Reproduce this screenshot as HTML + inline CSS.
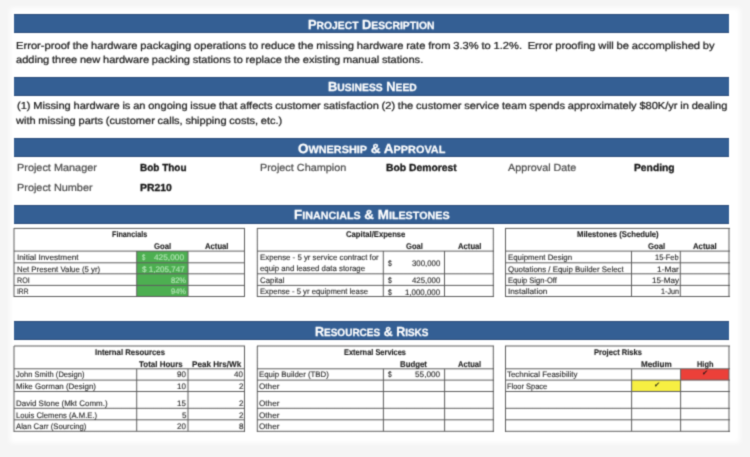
<!DOCTYPE html>
<html lang="en"><head><meta charset="utf-8"><title>Project Charter</title>
<style>
html,body{margin:0;padding:0}
body{width:750px;height:457px;overflow:hidden;background:#f5f5f5;position:relative;text-rendering:geometricPrecision;font-family:"Liberation Sans", sans-serif}
#sheet{position:absolute;left:9.5px;top:8.3px;width:730.4px;height:434.4px;background:#fff;filter:blur(2.5px)}
#wrap{position:absolute;left:0;top:0;width:750px;height:457px;filter:url(#soft)}
.t{position:absolute;white-space:pre;line-height:1;transform-origin:0 0;display:block;margin:0;padding:0}
.bar{position:absolute;background:#345f94;margin:0;box-shadow:inset 0 1px 0 #2a4b7a,inset 0 -1px 0 #2a4b7a}
.bar b{position:absolute;white-space:pre;color:#fff;-webkit-text-stroke:0.25px #fff;font-weight:700;font-size:13.1px;line-height:1;transform-origin:0 0;display:block}
.bar b small{font-size:10.5px}
.ln{position:absolute}
.f{position:absolute}
p.t{-webkit-text-stroke:0.24px currentColor;word-spacing:-0.3px}
span.t.o{-webkit-text-stroke:0.2px currentColor}
span.t.v{-webkit-text-stroke:0.3px currentColor}
span.t{-webkit-text-stroke:0.12px currentColor}
.ck{position:absolute;font-family:"DejaVu Sans",sans-serif;font-size:7px;line-height:1;color:#111;font-weight:700;transform:skewX(-14deg) scaleX(0.85)}
</style></head><body>
<svg width="0" height="0" style="position:absolute" aria-hidden="true"><filter id="soft" x="0" y="0" width="100%" height="100%" color-interpolation-filters="sRGB"><feConvolveMatrix order="3" edgeMode="duplicate" preserveAlpha="false" kernelMatrix="0.0289 0.1122 0.0289 0.1122 0.4356 0.1122 0.0289 0.1122 0.0289"/></filter></svg>
<div id="sheet"></div><div id="wrap">
<h2 class="bar" style="left:13.8px;top:14.4px;width:715.4px;height:18.6px"><b id="h0" style="left:294.60px;top:2.60px;line-height:15px;transform:scaleX(0.9828)">P<small>ROJECT</small> D<small>ESCRIPTION</small></b></h2>
<h2 class="bar" style="left:13.8px;top:76.8px;width:715.4px;height:18.8px"><b id="h1" style="left:313.80px;top:2.20px;line-height:15px;transform:scaleX(0.9838)">B<small>USINESS</small> N<small>EED</small></b></h2>
<h2 class="bar" style="left:13.8px;top:138.1px;width:715.4px;height:18.8px"><b id="h2" style="left:284.40px;top:2.90px;line-height:15px;transform:scaleX(1.0339)">O<small>WNERSHIP</small> &amp; A<small>PPROVAL</small></b></h2>
<h2 class="bar" style="left:13.8px;top:204.5px;width:715.4px;height:19.0px"><b id="h3" style="left:280.10px;top:2.50px;line-height:15px;transform:scaleX(1.0227)">F<small>INANCIALS</small> &amp; M<small>ILESTONES</small></b></h2>
<h2 class="bar" style="left:13.8px;top:320.8px;width:715.4px;height:19.2px"><b id="h4" style="left:301.70px;top:3.20px;line-height:15px;transform:scaleX(0.9529)">R<small>ESOURCES</small> &amp; R<small>ISKS</small></b></h2>
<div class="f" style="left:136.7px;top:251.1px;width:51.3px;height:45.4px;background:#4daf51"></div>
<div class="f" style="left:680.6px;top:368.8px;width:48.4px;height:11.3px;background:#ec4039"></div>
<div class="f" style="left:631.6px;top:380.1px;width:49.0px;height:11.4px;background:#f7ef42"></div>
<div class="ln" style="left:14px;top:227px;width:231px;height:2px;background:linear-gradient(to bottom,rgba(92,92,92,0.10) 50%,rgba(92,92,92,0.90) 50%)"></div><div class="ln" style="left:14px;top:250px;width:231px;height:2px;background:linear-gradient(to bottom,rgba(92,92,92,0.40) 50%,rgba(92,92,92,0.60) 50%)"></div><div class="ln" style="left:14px;top:262px;width:231px;height:2px;background:linear-gradient(to bottom,rgba(92,92,92,0.70) 50%,rgba(92,92,92,0.30) 50%)"></div><div class="ln" style="left:14px;top:273px;width:231px;height:2px;background:linear-gradient(to bottom,rgba(92,92,92,0.70) 50%,rgba(92,92,92,0.30) 50%)"></div><div class="ln" style="left:14px;top:284px;width:231px;height:2px;background:linear-gradient(to bottom,rgba(92,92,92,0.10) 50%,rgba(92,92,92,0.90) 50%)"></div><div class="ln" style="left:14px;top:296px;width:231px;height:2px;background:linear-gradient(to bottom,rgba(92,92,92,1.00) 50%,rgba(92,92,92,0.00) 50%)"></div><div class="ln" style="left:13px;top:228px;width:2px;height:69px;background:linear-gradient(to right,rgba(92,92,92,0.50) 50%,rgba(92,92,92,0.50) 50%)"></div><div class="ln" style="left:244px;top:228px;width:2px;height:69px;background:linear-gradient(to right,rgba(92,92,92,1.00) 50%,rgba(92,92,92,0.00) 50%)"></div><div class="ln" style="left:136px;top:251px;width:2px;height:45px;background:linear-gradient(to right,rgba(92,92,92,0.80) 50%,rgba(92,92,92,0.20) 50%)"></div><div class="ln" style="left:187px;top:251px;width:2px;height:45px;background:linear-gradient(to right,rgba(92,92,92,0.50) 50%,rgba(92,92,92,0.50) 50%)"></div>
<div class="ln" style="left:257px;top:227px;width:237px;height:2px;background:linear-gradient(to bottom,rgba(92,92,92,0.10) 50%,rgba(92,92,92,0.90) 50%)"></div><div class="ln" style="left:257px;top:250px;width:237px;height:2px;background:linear-gradient(to bottom,rgba(92,92,92,0.40) 50%,rgba(92,92,92,0.60) 50%)"></div><div class="ln" style="left:257px;top:273px;width:237px;height:2px;background:linear-gradient(to bottom,rgba(92,92,92,0.70) 50%,rgba(92,92,92,0.30) 50%)"></div><div class="ln" style="left:257px;top:284px;width:237px;height:2px;background:linear-gradient(to bottom,rgba(92,92,92,0.10) 50%,rgba(92,92,92,0.90) 50%)"></div><div class="ln" style="left:257px;top:296px;width:237px;height:2px;background:linear-gradient(to bottom,rgba(92,92,92,1.00) 50%,rgba(92,92,92,0.00) 50%)"></div><div class="ln" style="left:256px;top:228px;width:2px;height:69px;background:linear-gradient(to right,rgba(92,92,92,0.20) 50%,rgba(92,92,92,0.80) 50%)"></div><div class="ln" style="left:492px;top:228px;width:2px;height:69px;background:linear-gradient(to right,rgba(92,92,92,0.20) 50%,rgba(92,92,92,0.80) 50%)"></div><div class="ln" style="left:382px;top:251px;width:2px;height:45px;background:linear-gradient(to right,rgba(92,92,92,0.20) 50%,rgba(92,92,92,0.80) 50%)"></div><div class="ln" style="left:444px;top:251px;width:2px;height:45px;background:linear-gradient(to right,rgba(92,92,92,1.00) 50%,rgba(92,92,92,0.00) 50%)"></div>
<div class="ln" style="left:505px;top:227px;width:225px;height:2px;background:linear-gradient(to bottom,rgba(92,92,92,0.10) 50%,rgba(92,92,92,0.90) 50%)"></div><div class="ln" style="left:505px;top:250px;width:225px;height:2px;background:linear-gradient(to bottom,rgba(92,92,92,0.40) 50%,rgba(92,92,92,0.60) 50%)"></div><div class="ln" style="left:505px;top:262px;width:225px;height:2px;background:linear-gradient(to bottom,rgba(92,92,92,0.70) 50%,rgba(92,92,92,0.30) 50%)"></div><div class="ln" style="left:505px;top:273px;width:225px;height:2px;background:linear-gradient(to bottom,rgba(92,92,92,0.70) 50%,rgba(92,92,92,0.30) 50%)"></div><div class="ln" style="left:505px;top:284px;width:225px;height:2px;background:linear-gradient(to bottom,rgba(92,92,92,0.10) 50%,rgba(92,92,92,0.90) 50%)"></div><div class="ln" style="left:505px;top:296px;width:225px;height:2px;background:linear-gradient(to bottom,rgba(92,92,92,1.00) 50%,rgba(92,92,92,0.00) 50%)"></div><div class="ln" style="left:505px;top:228px;width:2px;height:69px;background:linear-gradient(to right,rgba(92,92,92,1.00) 50%,rgba(92,92,92,0.00) 50%)"></div><div class="ln" style="left:728px;top:228px;width:2px;height:69px;background:linear-gradient(to right,rgba(92,92,92,0.50) 50%,rgba(92,92,92,0.50) 50%)"></div><div class="ln" style="left:631px;top:251px;width:2px;height:45px;background:linear-gradient(to right,rgba(92,92,92,1.00) 50%,rgba(92,92,92,0.00) 50%)"></div><div class="ln" style="left:679px;top:251px;width:2px;height:45px;background:linear-gradient(to right,rgba(92,92,92,0.20) 50%,rgba(92,92,92,0.80) 50%)"></div>
<div class="ln" style="left:14px;top:345px;width:231px;height:2px;background:linear-gradient(to bottom,rgba(92,92,92,0.50) 50%,rgba(92,92,92,0.50) 50%)"></div><div class="ln" style="left:14px;top:368px;width:231px;height:2px;background:linear-gradient(to bottom,rgba(92,92,92,0.70) 50%,rgba(92,92,92,0.30) 50%)"></div><div class="ln" style="left:14px;top:379px;width:231px;height:2px;background:linear-gradient(to bottom,rgba(92,92,92,0.40) 50%,rgba(92,92,92,0.60) 50%)"></div><div class="ln" style="left:14px;top:391px;width:231px;height:2px;background:linear-gradient(to bottom,rgba(92,92,92,1.00) 50%,rgba(92,92,92,0.00) 50%)"></div><div class="ln" style="left:14px;top:407px;width:231px;height:2px;background:linear-gradient(to bottom,rgba(92,92,92,0.20) 50%,rgba(92,92,92,0.80) 50%)"></div><div class="ln" style="left:14px;top:419px;width:231px;height:2px;background:linear-gradient(to bottom,rgba(92,92,92,0.70) 50%,rgba(92,92,92,0.30) 50%)"></div><div class="ln" style="left:14px;top:430px;width:231px;height:2px;background:linear-gradient(to bottom,rgba(92,92,92,0.20) 50%,rgba(92,92,92,0.80) 50%)"></div><div class="ln" style="left:13px;top:346px;width:2px;height:86px;background:linear-gradient(to right,rgba(92,92,92,0.50) 50%,rgba(92,92,92,0.50) 50%)"></div><div class="ln" style="left:244px;top:346px;width:2px;height:86px;background:linear-gradient(to right,rgba(92,92,92,1.00) 50%,rgba(92,92,92,0.00) 50%)"></div><div class="ln" style="left:136px;top:369px;width:2px;height:62px;background:linear-gradient(to right,rgba(92,92,92,0.80) 50%,rgba(92,92,92,0.20) 50%)"></div><div class="ln" style="left:187px;top:369px;width:2px;height:62px;background:linear-gradient(to right,rgba(92,92,92,0.50) 50%,rgba(92,92,92,0.50) 50%)"></div>
<div class="ln" style="left:257px;top:345px;width:237px;height:2px;background:linear-gradient(to bottom,rgba(92,92,92,0.50) 50%,rgba(92,92,92,0.50) 50%)"></div><div class="ln" style="left:257px;top:368px;width:237px;height:2px;background:linear-gradient(to bottom,rgba(92,92,92,0.70) 50%,rgba(92,92,92,0.30) 50%)"></div><div class="ln" style="left:257px;top:379px;width:237px;height:2px;background:linear-gradient(to bottom,rgba(92,92,92,0.40) 50%,rgba(92,92,92,0.60) 50%)"></div><div class="ln" style="left:257px;top:391px;width:237px;height:2px;background:linear-gradient(to bottom,rgba(92,92,92,1.00) 50%,rgba(92,92,92,0.00) 50%)"></div><div class="ln" style="left:257px;top:407px;width:237px;height:2px;background:linear-gradient(to bottom,rgba(92,92,92,0.20) 50%,rgba(92,92,92,0.80) 50%)"></div><div class="ln" style="left:257px;top:419px;width:237px;height:2px;background:linear-gradient(to bottom,rgba(92,92,92,0.70) 50%,rgba(92,92,92,0.30) 50%)"></div><div class="ln" style="left:257px;top:430px;width:237px;height:2px;background:linear-gradient(to bottom,rgba(92,92,92,0.20) 50%,rgba(92,92,92,0.80) 50%)"></div><div class="ln" style="left:256px;top:346px;width:2px;height:86px;background:linear-gradient(to right,rgba(92,92,92,0.20) 50%,rgba(92,92,92,0.80) 50%)"></div><div class="ln" style="left:492px;top:346px;width:2px;height:86px;background:linear-gradient(to right,rgba(92,92,92,0.20) 50%,rgba(92,92,92,0.80) 50%)"></div><div class="ln" style="left:382px;top:369px;width:2px;height:62px;background:linear-gradient(to right,rgba(92,92,92,0.10) 50%,rgba(92,92,92,0.90) 50%)"></div><div class="ln" style="left:444px;top:369px;width:2px;height:62px;background:linear-gradient(to right,rgba(92,92,92,0.90) 50%,rgba(92,92,92,0.10) 50%)"></div>
<div class="ln" style="left:505px;top:345px;width:225px;height:2px;background:linear-gradient(to bottom,rgba(92,92,92,0.50) 50%,rgba(92,92,92,0.50) 50%)"></div><div class="ln" style="left:505px;top:368px;width:225px;height:2px;background:linear-gradient(to bottom,rgba(92,92,92,0.70) 50%,rgba(92,92,92,0.30) 50%)"></div><div class="ln" style="left:505px;top:379px;width:225px;height:2px;background:linear-gradient(to bottom,rgba(92,92,92,0.40) 50%,rgba(92,92,92,0.60) 50%)"></div><div class="ln" style="left:505px;top:391px;width:225px;height:2px;background:linear-gradient(to bottom,rgba(92,92,92,1.00) 50%,rgba(92,92,92,0.00) 50%)"></div><div class="ln" style="left:505px;top:407px;width:225px;height:2px;background:linear-gradient(to bottom,rgba(92,92,92,0.20) 50%,rgba(92,92,92,0.80) 50%)"></div><div class="ln" style="left:505px;top:419px;width:225px;height:2px;background:linear-gradient(to bottom,rgba(92,92,92,0.70) 50%,rgba(92,92,92,0.30) 50%)"></div><div class="ln" style="left:505px;top:430px;width:225px;height:2px;background:linear-gradient(to bottom,rgba(92,92,92,0.20) 50%,rgba(92,92,92,0.80) 50%)"></div><div class="ln" style="left:505px;top:346px;width:2px;height:86px;background:linear-gradient(to right,rgba(92,92,92,1.00) 50%,rgba(92,92,92,0.00) 50%)"></div><div class="ln" style="left:728px;top:346px;width:2px;height:86px;background:linear-gradient(to right,rgba(92,92,92,0.50) 50%,rgba(92,92,92,0.50) 50%)"></div><div class="ln" style="left:631px;top:369px;width:2px;height:62px;background:linear-gradient(to right,rgba(92,92,92,0.90) 50%,rgba(92,92,92,0.10) 50%)"></div><div class="ln" style="left:680px;top:369px;width:2px;height:62px;background:linear-gradient(to right,rgba(92,92,92,0.90) 50%,rgba(92,92,92,0.10) 50%)"></div>
<p class="t" id="t0" style="left:16.30px;top:41px;line-height:11px;font-size:10.10px;font-weight:400;color:#202020;transform:scaleX(1.1061)">Error-proof the hardware packaging operations to reduce the missing hardware rate from 3.3% to 1.2%.  Error proofing will be accomplished by</p>
<p class="t" id="t1" style="left:16.30px;top:55px;line-height:11px;font-size:10.10px;font-weight:400;color:#202020;transform:scaleX(1.0961)">adding three new hardware packing stations to replace the existing manual stations.</p>
<p class="t" id="t2" style="left:16.80px;top:101px;line-height:11px;font-size:10.10px;font-weight:400;color:#202020;transform:scaleX(1.0962)">(1) Missing hardware is an ongoing issue that affects customer satisfaction (2) the customer service team spends approximately $80K/yr in dealing</p>
<p class="t" id="t3" style="left:16.30px;top:116px;line-height:11px;font-size:10.10px;font-weight:400;color:#202020;transform:scaleX(1.0931)">with missing parts (customer calls, shipping costs, etc.)</p>
<span class="t o" id="t4" style="left:16.80px;top:163px;line-height:11px;font-size:10.30px;font-weight:400;color:#484848;transform:scaleX(1.0574)">Project Manager</span>
<span class="t v" id="t5" style="left:139.70px;top:163px;line-height:11px;font-size:10.20px;font-weight:700;color:#151515;transform:scaleX(0.9783)">Bob Thou</span>
<span class="t o" id="t6" style="left:260.10px;top:163px;line-height:11px;font-size:10.30px;font-weight:400;color:#484848;transform:scaleX(1.0544)">Project Champion</span>
<span class="t v" id="t7" style="left:386.30px;top:163px;line-height:11px;font-size:10.20px;font-weight:700;color:#151515;transform:scaleX(1.0166)">Bob Demorest</span>
<span class="t o" id="t8" style="left:508.40px;top:163px;line-height:11px;font-size:10.30px;font-weight:400;color:#484848;transform:scaleX(1.0465)">Approval Date</span>
<span class="t v" id="t9" style="left:634.00px;top:163px;line-height:11px;font-size:10.20px;font-weight:700;color:#151515;transform:scaleX(1.0103)">Pending</span>
<span class="t o" id="t10" style="left:16.80px;top:183px;line-height:11px;font-size:10.30px;font-weight:400;color:#484848;transform:scaleX(1.0569)">Project Number</span>
<span class="t v" id="t11" style="left:139.70px;top:183px;line-height:11px;font-size:10.20px;font-weight:700;color:#151515;transform:scaleX(1.0207)">PR210</span>
<span class="t" id="t12" style="left:112.10px;top:229px;line-height:10px;font-size:8.40px;font-weight:700;color:#1c1c1c;transform:scaleX(0.8592)">Financials</span>
<span class="t" id="t13" style="left:154.00px;top:241px;line-height:10px;font-size:8.40px;font-weight:700;color:#1c1c1c;transform:scaleX(0.9235)">Goal</span>
<span class="t" id="t14" style="left:204.90px;top:241px;line-height:10px;font-size:8.40px;font-weight:700;color:#1c1c1c;transform:scaleX(0.9176)">Actual</span>
<span class="t" id="t15" style="left:16.50px;top:253px;line-height:9px;font-size:8.00px;font-weight:400;color:#262626;transform:scaleX(1.0261)">Initial Investment</span>
<span class="t" id="t16" style="left:16.50px;top:265px;line-height:9px;font-size:8.00px;font-weight:400;color:#262626;transform:scaleX(0.9763)">Net Present Value (5 yr)</span>
<span class="t" id="t17" style="left:16.50px;top:276px;line-height:9px;font-size:8.00px;font-weight:400;color:#262626;transform:scaleX(0.8922)">ROI</span>
<span class="t" id="t18" style="left:16.50px;top:287px;line-height:9px;font-size:8.00px;font-weight:400;color:#262626;transform:scaleX(0.8345)">IRR</span>
<span class="t" id="t19" style="left:142.00px;top:253px;line-height:9px;font-size:8.00px;font-weight:400;color:#b4e6b6;transform:scaleX(0.7411)">$</span>
<span class="t" id="t20" style="left:154.00px;top:253px;line-height:9px;font-size:8.00px;font-weight:400;color:#b4e6b6;transform:scaleX(1.0373)">425,000</span>
<span class="t" id="t21" style="left:141.70px;top:265px;line-height:9px;font-size:8.00px;font-weight:400;color:#b4e6b6;transform:scaleX(1.0126)">$ 1,205,747</span>
<span class="t" id="t22" style="left:170.80px;top:276px;line-height:9px;font-size:8.00px;font-weight:400;color:#b4e6b6;transform:scaleX(0.9303)">82%</span>
<span class="t" id="t23" style="left:170.80px;top:287px;line-height:9px;font-size:8.00px;font-weight:400;color:#b4e6b6;transform:scaleX(0.9303)">94%</span>
<span class="t" id="t24" style="left:345.60px;top:229px;line-height:10px;font-size:8.40px;font-weight:700;color:#1c1c1c;transform:scaleX(0.9180)">Capital/Expense</span>
<span class="t" id="t25" style="left:405.70px;top:241px;line-height:10px;font-size:8.40px;font-weight:700;color:#1c1c1c;transform:scaleX(0.9074)">Goal</span>
<span class="t" id="t26" style="left:457.50px;top:241px;line-height:10px;font-size:8.40px;font-weight:700;color:#1c1c1c;transform:scaleX(0.9176)">Actual</span>
<span class="t" id="t27" style="left:259.90px;top:253px;line-height:9px;font-size:8.00px;font-weight:400;color:#262626;transform:scaleX(0.9778)">Expense - 5 yr service contract for</span>
<span class="t" id="t28" style="left:259.90px;top:264px;line-height:9px;font-size:8.00px;font-weight:400;color:#262626;transform:scaleX(0.9755)">equip and leased data storage</span>
<span class="t" id="t29" style="left:259.90px;top:276px;line-height:9px;font-size:8.00px;font-weight:400;color:#262626;transform:scaleX(0.9797)">Capital</span>
<span class="t" id="t30" style="left:259.90px;top:287px;line-height:9px;font-size:8.00px;font-weight:400;color:#262626;transform:scaleX(0.9599)">Expense - 5 yr equipment lease</span>
<span class="t" id="t31" style="left:388.30px;top:259px;line-height:9px;font-size:8.00px;font-weight:400;color:#262626;transform:scaleX(0.8533)">$</span>
<span class="t" id="t32" style="left:411.70px;top:259px;line-height:9px;font-size:8.00px;font-weight:400;color:#262626;transform:scaleX(0.9785)">300,000</span>
<span class="t" id="t33" style="left:388.30px;top:276px;line-height:9px;font-size:8.00px;font-weight:400;color:#262626;transform:scaleX(0.8533)">$</span>
<span class="t" id="t34" style="left:411.70px;top:276px;line-height:9px;font-size:8.00px;font-weight:400;color:#262626;transform:scaleX(0.9785)">425,000</span>
<span class="t" id="t35" style="left:388.30px;top:288px;line-height:9px;font-size:8.00px;font-weight:400;color:#262626;transform:scaleX(0.8533)">$</span>
<span class="t" id="t36" style="left:404.90px;top:288px;line-height:9px;font-size:8.00px;font-weight:400;color:#262626;transform:scaleX(0.9861)">1,000,000</span>
<span class="t" id="t37" style="left:576.80px;top:229px;line-height:10px;font-size:8.40px;font-weight:700;color:#1c1c1c;transform:scaleX(0.9240)">Milestones (Schedule)</span>
<span class="t" id="t38" style="left:648.20px;top:241px;line-height:10px;font-size:8.40px;font-weight:700;color:#1c1c1c;transform:scaleX(0.9235)">Goal</span>
<span class="t" id="t39" style="left:693.40px;top:241px;line-height:10px;font-size:8.40px;font-weight:700;color:#1c1c1c;transform:scaleX(0.9254)">Actual</span>
<span class="t" id="t40" style="left:507.70px;top:253px;line-height:9px;font-size:8.00px;font-weight:400;color:#262626;transform:scaleX(0.9805)">Equipment Design</span>
<span class="t" id="t41" style="left:507.70px;top:265px;line-height:9px;font-size:8.00px;font-weight:400;color:#262626;transform:scaleX(0.9855)">Quotations / Equip Builder Select</span>
<span class="t" id="t42" style="left:507.70px;top:276px;line-height:9px;font-size:8.00px;font-weight:400;color:#262626;transform:scaleX(0.9404)">Equip Sign-Off</span>
<span class="t" id="t43" style="left:507.70px;top:287px;line-height:9px;font-size:8.00px;font-weight:400;color:#262626;transform:scaleX(1.0301)">Installation</span>
<span class="t" id="t44" style="left:655.30px;top:253px;line-height:9px;font-size:8.00px;font-weight:400;color:#262626;transform:scaleX(0.9346)">15-Feb</span>
<span class="t" id="t45" style="left:657.20px;top:265px;line-height:9px;font-size:8.00px;font-weight:400;color:#262626;transform:scaleX(1.0435)">1-Mar</span>
<span class="t" id="t46" style="left:652.40px;top:276px;line-height:9px;font-size:8.00px;font-weight:400;color:#262626;transform:scaleX(1.0155)">15-May</span>
<span class="t" id="t47" style="left:661.00px;top:287px;line-height:9px;font-size:8.00px;font-weight:400;color:#262626;transform:scaleX(0.8993)">1-Jun</span>
<span class="t" id="t48" style="left:94.80px;top:347px;line-height:10px;font-size:8.40px;font-weight:700;color:#1c1c1c;transform:scaleX(0.9283)">Internal Resources</span>
<span class="t" id="t49" style="left:138.80px;top:359px;line-height:10px;font-size:8.40px;font-weight:700;color:#1c1c1c;transform:scaleX(0.9519)">Total Hours</span>
<span class="t" id="t50" style="left:192.00px;top:359px;line-height:10px;font-size:8.40px;font-weight:700;color:#1c1c1c;transform:scaleX(0.9695)">Peak Hrs/Wk</span>
<span class="t" id="t51" style="left:16.00px;top:370px;line-height:9px;font-size:8.00px;font-weight:400;color:#262626;transform:scaleX(0.9437)">John Smith (Design)</span>
<span class="t" id="t52" style="left:177.10px;top:370px;line-height:9px;font-size:8.00px;font-weight:400;color:#262626;transform:scaleX(0.9993)">90</span>
<span class="t" id="t53" style="left:234.10px;top:370px;line-height:9px;font-size:8.00px;font-weight:400;color:#262626;transform:scaleX(0.9993)">40</span>
<span class="t" id="t54" style="left:16.00px;top:382px;line-height:9px;font-size:8.00px;font-weight:400;color:#262626;transform:scaleX(0.9942)">Mike Gorman (Design)</span>
<span class="t" id="t55" style="left:177.10px;top:382px;line-height:9px;font-size:8.00px;font-weight:400;color:#262626;transform:scaleX(0.9993)">10</span>
<span class="t" id="t56" style="left:238.50px;top:382px;line-height:9px;font-size:8.00px;font-weight:400;color:#262626;transform:scaleX(1.0105)">2</span>
<span class="t" id="t57" style="left:16.00px;top:399px;line-height:9px;font-size:8.00px;font-weight:400;color:#262626;transform:scaleX(0.9953)">David Stone (Mkt Comm.)</span>
<span class="t" id="t58" style="left:177.10px;top:399px;line-height:9px;font-size:8.00px;font-weight:400;color:#262626;transform:scaleX(0.9993)">15</span>
<span class="t" id="t59" style="left:238.50px;top:399px;line-height:9px;font-size:8.00px;font-weight:400;color:#262626;transform:scaleX(1.0105)">2</span>
<span class="t" id="t60" style="left:16.00px;top:411px;line-height:9px;font-size:8.00px;font-weight:400;color:#262626;transform:scaleX(0.9601)">Louis Clemens (A.M.E.)</span>
<span class="t" id="t61" style="left:181.50px;top:411px;line-height:9px;font-size:8.00px;font-weight:400;color:#262626;transform:scaleX(1.0105)">5</span>
<span class="t" id="t62" style="left:238.50px;top:411px;line-height:9px;font-size:8.00px;font-weight:400;color:#262626;transform:scaleX(1.0105)">2</span>
<span class="t" id="t63" style="left:16.00px;top:422px;line-height:9px;font-size:8.00px;font-weight:400;color:#262626;transform:scaleX(0.9654)">Alan Carr (Sourcing)</span>
<span class="t" id="t64" style="left:177.10px;top:422px;line-height:9px;font-size:8.00px;font-weight:400;color:#262626;transform:scaleX(0.9993)">20</span>
<span class="t" id="t65" style="left:238.50px;top:422px;line-height:9px;font-size:8.00px;font-weight:400;color:#262626;transform:scaleX(1.0105)">8</span>
<span class="t" id="t66" style="left:344.40px;top:347px;line-height:10px;font-size:8.40px;font-weight:700;color:#1c1c1c;transform:scaleX(0.8877)">External Services</span>
<span class="t" id="t67" style="left:400.20px;top:359px;line-height:10px;font-size:8.40px;font-weight:700;color:#1c1c1c;transform:scaleX(0.9326)">Budget</span>
<span class="t" id="t68" style="left:457.60px;top:359px;line-height:10px;font-size:8.40px;font-weight:700;color:#1c1c1c;transform:scaleX(0.9020)">Actual</span>
<span class="t" id="t69" style="left:259.40px;top:370px;line-height:9px;font-size:8.00px;font-weight:400;color:#262626;transform:scaleX(0.9826)">Equip Builder (TBD)</span>
<span class="t" id="t70" style="left:259.40px;top:382px;line-height:9px;font-size:8.00px;font-weight:400;color:#262626;transform:scaleX(1.0192)">Other</span>
<span class="t" id="t71" style="left:259.40px;top:399px;line-height:9px;font-size:8.00px;font-weight:400;color:#262626;transform:scaleX(1.0192)">Other</span>
<span class="t" id="t72" style="left:259.40px;top:411px;line-height:9px;font-size:8.00px;font-weight:400;color:#262626;transform:scaleX(1.0192)">Other</span>
<span class="t" id="t73" style="left:259.40px;top:422px;line-height:9px;font-size:8.00px;font-weight:400;color:#262626;transform:scaleX(1.0192)">Other</span>
<span class="t" id="t74" style="left:388.00px;top:370px;line-height:9px;font-size:8.00px;font-weight:400;color:#262626;transform:scaleX(0.8309)">$</span>
<span class="t" id="t75" style="left:415.20px;top:370px;line-height:9px;font-size:8.00px;font-weight:400;color:#262626;transform:scaleX(1.0258)">55,000</span>
<span class="t" id="t76" style="left:593.80px;top:347px;line-height:10px;font-size:8.40px;font-weight:700;color:#1c1c1c;transform:scaleX(0.9043)">Project Risks</span>
<span class="t" id="t77" style="left:641.20px;top:359px;line-height:10px;font-size:8.40px;font-weight:700;color:#1c1c1c;transform:scaleX(0.9703)">Medium</span>
<span class="t" id="t78" style="left:697.00px;top:359px;line-height:10px;font-size:8.40px;font-weight:700;color:#1c1c1c;transform:scaleX(0.8813)">High</span>
<span class="t" id="t79" style="left:507.40px;top:370px;line-height:9px;font-size:8.00px;font-weight:400;color:#262626;transform:scaleX(0.9896)">Technical Feasibility</span>
<span class="t" id="t80" style="left:507.40px;top:382px;line-height:9px;font-size:8.00px;font-weight:400;color:#262626;transform:scaleX(0.9318)">Floor Space</span>
<span class="ck" style="left:701.6px;top:370.0px">&#10004;</span>
<span class="ck" style="left:653.6px;top:381.6px">&#10004;</span>
</div></body></html>
